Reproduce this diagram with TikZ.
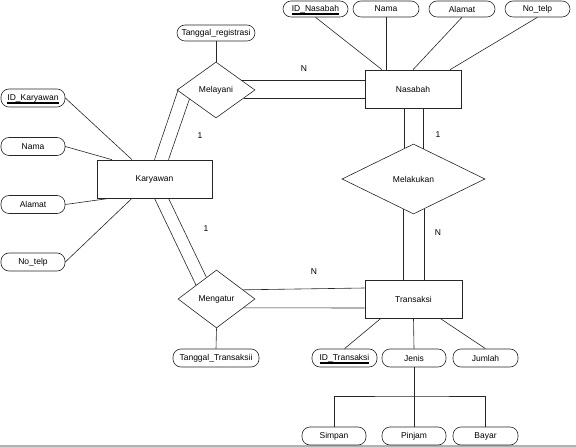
\documentclass[tikz,border=0pt]{standalone}
\usepackage{fontspec}
\setmainfont{Liberation Sans}
\usetikzlibrary{shapes.geometric,calc}
\newcommand{\pkey}[1]{\setbox0\hbox{#1}\rlap{\smash{\raisebox{-2.4bp}{\rule{\wd0}{0.45bp}}}}\rlap{\smash{\raisebox{-3.4bp}{\rule{\wd0}{0.45bp}}}}\box0}
\begin{document}
\begin{tikzpicture}[x=1bp,y=-1bp,
  every node/.style={font=\fontsize{8.5bp}{10bp}\selectfont, inner sep=0pt},
  ln/.style={draw=black!85, line width=0.6bp},
  ent/.style={rectangle, draw=black!85, line width=0.6bp, fill=white},
  rel/.style={diamond, draw=black!85, line width=0.6bp, fill=white},
  attr/.style={rectangle, rounded corners=8bp, draw=black!85, line width=0.6bp, fill=white, minimum height=17bp},
  card/.style={font=\fontsize{8.5bp}{10bp}\selectfont}]
\useasboundingbox (0,0) rectangle (576,447);
\fill[black!30] (0,445) rectangle (576,447);

% entities
\node[ent, minimum width=96bp, minimum height=38bp] (nas) at (413,89) {Nasabah};
\node[ent, minimum width=115bp, minimum height=38bp] (kar) at (154.5,179) {Karyawan};
\node[ent, minimum width=97bp, minimum height=38bp] (tra) at (413.5,299) {Transaksi};

% relationships
\node[rel, minimum width=78bp, minimum height=56bp] (mly) at (216,90) {Melayani};
\node[rel, minimum width=77bp, minimum height=58bp] (mgt) at (216.5,299) {Mengatur};
\node[rel, minimum width=143bp, minimum height=70bp] (mlk) at (413.5,179) {Melakukan};

% Nasabah attributes
\node[attr, minimum width=65bp, minimum height=16bp] (idn) at (315.5,9) {\pkey{ID\_Nasabah}};
\node[attr, minimum width=66bp, minimum height=16bp] (nman) at (386,9) {Nama};
\node[attr, minimum width=66bp, minimum height=16bp] (alan) at (462,9) {Alamat};
\node[attr, minimum width=65bp, minimum height=16bp] (tlpn) at (537.5,9) {No\_telp};
% Melayani attribute
\node[attr, minimum width=78bp, minimum height=16bp] (tgr) at (216,33) {Tanggal\_registrasi};
% Karyawan attributes
\node[attr, minimum width=64bp, minimum height=18bp] (idk) at (33,98) {\pkey{ID\_Karyawan}};
\node[attr, minimum width=64bp, minimum height=18bp] (nmak) at (33,146.5) {Nama};
\node[attr, minimum width=64bp, minimum height=18bp] (alak) at (33,204.5) {Alamat};
\node[attr, minimum width=64bp, minimum height=18bp] (tlpk) at (33,262) {No\_telp};
% Mengatur attribute
\node[attr, minimum width=86bp, minimum height=18bp] (tgt) at (216,358) {Tanggal\_Transaksii};
% Transaksi attributes
\node[attr, minimum width=65bp, minimum height=18bp] (idt) at (344.5,358) {\pkey{ID\_Transaksi}};
\node[attr, minimum width=64bp, minimum height=18bp] (jns) at (414,358) {Jenis};
\node[attr, minimum width=65bp, minimum height=18bp] (jml) at (485.5,358) {Jumlah};
% Jenis values
\node[attr, minimum width=64bp, minimum height=18bp] (smp) at (334,436) {Simpan};
\node[attr, minimum width=64bp, minimum height=18bp] (pjm) at (414,436) {Pinjam};
\node[attr, minimum width=65bp, minimum height=18bp] (byr) at (485.5,436) {Bayar};

% attribute connectors
\draw[ln] (idn.south) -- ([xshift=-31bp]nas.north);
\draw[ln] (nman.south) -- (nman.south |- nas.north);
\draw[ln] (alan.south) -- (nas.north);
\draw[ln] (tlpn.south) -- ([xshift=37bp]nas.north);
\draw[ln] (tgr.south) -- (mly.north);
\draw[ln] (idk.east) -- ([xshift=-22.5bp]kar.north);
\draw[ln] (nmak.east) -- ([xshift=-42.5bp]kar.north);
\draw[ln] (alak.east) -- ([xshift=-44.5bp]kar.south);
\draw[ln] (tlpk.east) -- ([xshift=-22.5bp]kar.south);
\draw[ln] (mgt.south) -- (tgt.north);
\draw[ln] ([xshift=-32.5bp]tra.south) -- (idt.north);
\draw[ln] (tra.south) -- (jns.north);
\draw[ln] ([xshift=26.5bp]tra.south) -- (jml.north);
\coordinate (fork) at (414,396);
\draw[ln] (jns.south) -- (pjm.north);
\draw[ln] (smp.north) |- (fork) -| (byr.north);

% relationship double connectors
\draw[ln] (mly.22) -- (mly.22 -| nas.west);
\draw[ln] (mly.-16) -- (mly.-16 -| nas.west);
\draw[ln] (kar.north) -- (mly.178);
\draw[ln] ([xshift=14bp]kar.north) -- (mly.199);
\draw[ln] (kar.south) -- (mgt.146.9);
\draw[ln] ([xshift=14bp]kar.south) -- (mgt.115.5);
\draw[ln] (mgt.19.4) -- ([yshift=11bp]tra.west);
\draw[ln] (mgt.-18.8) -- ([yshift=-9bp]tra.west);
\draw[ln] (mlk.107) -- (mlk.107 |- nas.south);
\draw[ln] (mlk.72.4) -- (mlk.72.4 |- nas.south);
\draw[ln] (mlk.251.3) -- (mlk.251.3 |- tra.north);
\draw[ln] (mlk.289.3) -- (mlk.289.3 |- tra.north);

% cardinalities
\node[card] (c1) at (304,69) {N};
\node[card] (c2) at (200,136) {1};
\node[card] (c3) at (206,229) {1};
\node[card] (c4) at (314,272) {N};
\node[card] (c5) at (438,135) {1};
\node[card] (c6) at (438,233) {N};
\end{tikzpicture}
\end{document}
